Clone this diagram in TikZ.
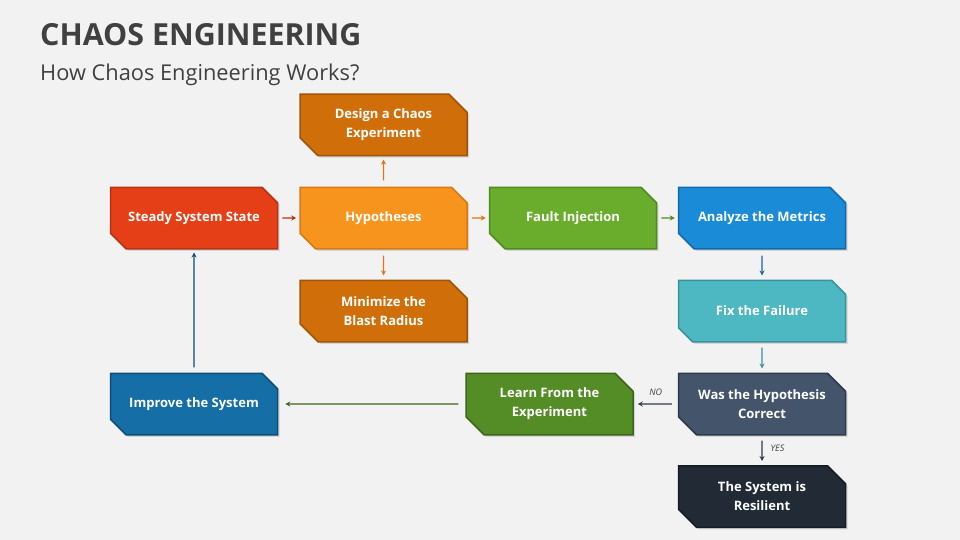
\documentclass[tikz,border=0pt]{standalone}
\usepackage{fontspec}
\setmainfont{Open Sans}
\usetikzlibrary{shapes.misc, positioning, shadows, arrows.meta}
\definecolor{bgcol}{HTML}{F2F2F2}
\definecolor{titlecol}{HTML}{404040}
\definecolor{steadyfill}{HTML}{E53F17}
\definecolor{steadyline}{HTML}{B53212}
\definecolor{hypofill}{HTML}{F7941E}
\definecolor{hypoline}{HTML}{D97816}
\definecolor{expfill}{HTML}{D06F0A}
\definecolor{expline}{HTML}{9E5508}
\definecolor{faultfill}{HTML}{6AAC2B}
\definecolor{faultline}{HTML}{4E8A1F}
\definecolor{metricfill}{HTML}{1A8BD6}
\definecolor{metricline}{HTML}{1469A8}
\definecolor{fixfill}{HTML}{4DB8C2}
\definecolor{fixline}{HTML}{3A939C}
\definecolor{askfill}{HTML}{44546A}
\definecolor{askline}{HTML}{2C3A4C}
\definecolor{resfill}{HTML}{222A35}
\definecolor{resline}{HTML}{161C24}
\definecolor{learnfill}{HTML}{548C26}
\definecolor{learnline}{HTML}{3B6619}
\definecolor{improvefill}{HTML}{156EA5}
\definecolor{improveline}{HTML}{0D4E78}
\tikzset{
    chambox/.style = {chamfered rectangle, chamfered rectangle corners={north east, south west},
      chamfered rectangle xsep=9pt, chamfered rectangle ysep=9pt, line width=1.5pt,
      minimum width=167pt, minimum height=61.5pt, inner sep=0pt, text=white, align=center,
      font=\bfseries\fontsize{13}{19}\selectfont,
      drop shadow={shadow xshift=2pt, shadow yshift=-2pt, opacity=0.25}},
    boxcol/.style 2 args = {fill=#1, draw=#2},
    connect/.style = {line width=1.2pt, -{Stealth[length=5pt, width=5pt]}},
    textnode/.style = {draw=none, fill=none, inner sep=0pt, text=titlecol},
    answer/.style = {draw=none, inner sep=0pt, text=titlecol, font=\itshape\fontsize{9}{10}\selectfont}
}
\begin{document}
\begin{tikzpicture}[x=1pt, y=-1pt]
    \fill[bgcol] (0,0) rectangle (960,540);
    \useasboundingbox (0,0) rectangle (960,540);
    % heading
    \node[textnode, name=T, anchor=base west, font=\bfseries\fontsize{30.4}{36}\selectfont] at (40,46) {CHAOS ENGINEERING};
    \node[textnode, name=U, anchor=base west, font=\fontsize{21.8}{24}\selectfont] at (40,81) {How Chaos Engineering Works?};
    % boxes
    \node[chambox, boxcol={steadyfill}{steadyline}, name=S] at (194,218) {Steady System State};
    \node[chambox, boxcol={hypofill}{hypoline}, name=H, right=21pt of S] {Hypotheses};
    \node[chambox, boxcol={expfill}{expline}, name=D, above=30pt of H] {Design a Chaos\\Experiment};
    \node[chambox, boxcol={expfill}{expline}, name=M, below=30pt of H] {Minimize the\\Blast Radius};
    \node[chambox, boxcol={faultfill}{faultline}, name=F, right=21pt of H] {Fault Injection};
    \node[chambox, boxcol={metricfill}{metricline}, name=A, right=20.5pt of F] {Analyze the Metrics};
    \node[chambox, boxcol={fixfill}{fixline}, name=X, below=30pt of A] {Fix the Failure};
    \node[chambox, boxcol={askfill}{askline}, name=W, below=30pt of X] {Was the Hypothesis\\Correct};
    \node[chambox, boxcol={resfill}{resline}, name=R, below=29.5pt of W] {The System is\\Resilient};
    \node[chambox, boxcol={learnfill}{learnline}, name=L, left=44pt of W] {Learn From the\\Experiment};
    \node[chambox, boxcol={improvefill}{improveline}, name=I, below=123pt of S] {Improve the System};
    % arrows
    \draw[connect, steadyline, shorten <=4pt, shorten >=3pt] (S) -- (H);
    \draw[connect, hypoline, shorten <=6pt, shorten >=3pt] (H) -- (D);
    \draw[connect, hypoline, shorten <=6pt, shorten >=4pt] (H) -- (M);
    \draw[connect, hypoline, shorten <=4pt, shorten >=3pt] (H) -- (F);
    \draw[connect, faultline, shorten <=4pt, shorten >=3pt] (F) -- (A);
    \draw[connect, metricline, shorten <=6pt, shorten >=4pt] (A) -- (X);
    \draw[connect, fixline, shorten <=5pt, shorten >=4pt] (X) -- (W);
    \draw[connect, askline, shorten <=5pt, shorten >=4pt] (W) -- node[answer, pos=0.45, right=8pt]{YES} (R);
    \draw[connect, askline, shorten <=6pt, shorten >=4pt] (W) -- node[answer, pos=0.5, above=8pt]{NO} (L);
    \draw[connect, learnline, shorten <=7pt, shorten >=7pt] (L) -- (I);
    \draw[connect, improveline, shorten <=5pt, shorten >=3pt] (I) -- (S);
\end{tikzpicture}
\end{document}
